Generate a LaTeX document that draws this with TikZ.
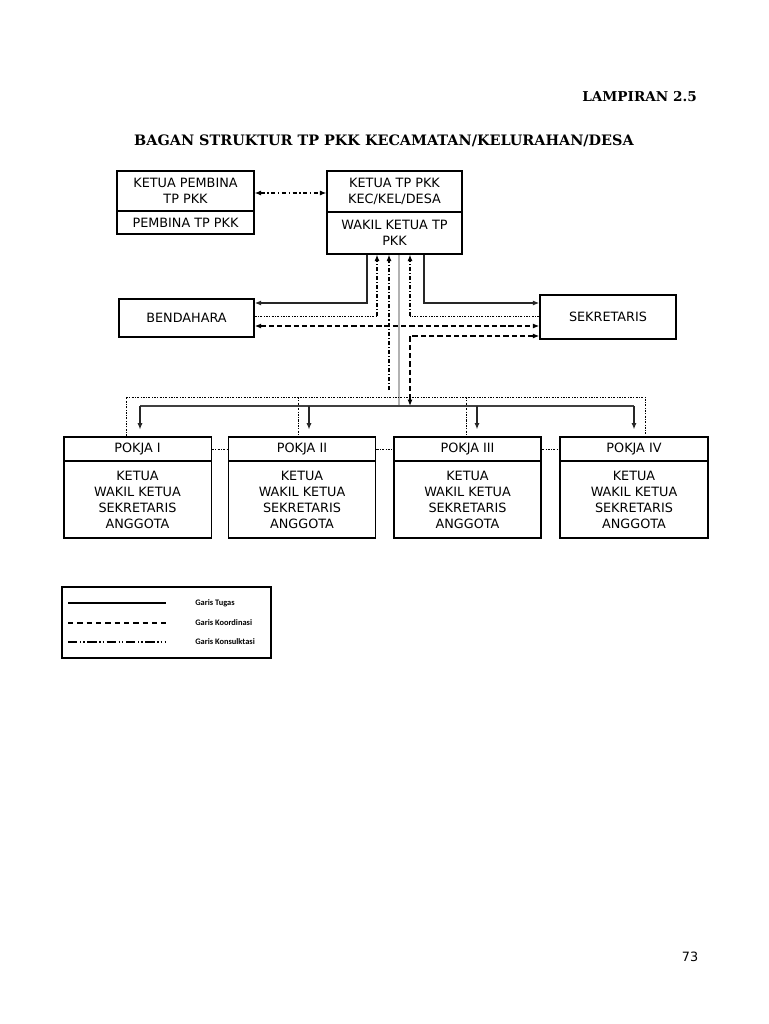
\documentclass[tikz,border=0pt]{standalone}
\usepackage{fontspec}
\setmainfont{DejaVu Sans}
\newfontfamily\titlefont{DejaVu Serif}
\newfontfamily\legfont{Carlito}
\usetikzlibrary{arrows.meta,calc}
\tikzset{
  box/.style={draw, line width=1.1pt, inner sep=0pt, align=center, font=\fontsize{9.6pt}{12pt}\selectfont},
  solidln/.style={line width=1pt, black!85},
  dashln/.style={line width=1pt, dash pattern=on 4pt off 2.2pt},
  ddot/.style={line width=0.8pt, dash pattern=on 3pt off 1.5pt on 0.8pt off 1.5pt},
  fdot/.style={line width=0.6pt, dash pattern=on 1.6pt off 1pt on 0.6pt off 1pt},
  konsul/.style={line width=0.8pt, dash pattern=on 3pt off 2pt on 1pt off 2pt},
  tip/.style={-{Latex[length=4.8pt,width=3.8pt]}},
  tipboth/.style={{Latex[length=4.8pt,width=3.8pt]}-{Latex[length=4.8pt,width=3.8pt]}},
  ttl/.style={font=\titlefont\bfseries\fontsize{10.8pt}{12pt}\selectfont, inner sep=0pt},
  leg/.style={font=\legfont\bfseries\fontsize{6.3pt}{7pt}\selectfont, anchor=west, inner sep=0pt},
  topw/.style={minimum width=102.75pt},
  midw/.style={minimum width=101.25pt},
  pw/.style={minimum width=110.6pt},
  ph/.style={minimum height=18pt},
  bh/.style={minimum height=57.75pt}
}
\begin{document}
\begin{tikzpicture}[x=0.75pt,y=-0.75pt]
\fill[white] (0,0) rectangle (768,1024);
\useasboundingbox (0,0) rectangle (768,1024);

% titles
\node[ttl, anchor=east, font=\titlefont\bfseries\fontsize{10.2pt}{12pt}\selectfont] (lamp) at (697,97) {LAMPIRAN 2.5};
\node[ttl] (title) at (384,141) {BAGAN STRUKTUR TP PKK KECAMATAN/KELURAHAN/DESA};

% top boxes
\node[box, topw, minimum height=30pt] (kpem) at (185.5,191) {KETUA PEMBINA\\TP PKK};
\node[box, topw, minimum height=17.25pt] (pem) at (185.5,222.5) {PEMBINA TP PKK};
\node[box, midw, minimum height=30.75pt] (ktp) at (394.5,191.5) {KETUA TP PKK\\KEC/KEL/DESA};
\node[box, midw, minimum height=31.5pt] (wk) at (394.5,233) {WAKIL KETUA TP\\PKK};

\node[box, midw, minimum height=28.5pt] (bend) at (186.5,318) {BENDAHARA};
\node[box, minimum width=102pt, minimum height=33pt] (sek) at (608,317) {SEKRETARIS};

% pokja
\node[box, pw, ph] (p1) at (137.5,449) {POKJA I};
\node[box, pw, bh] (b1) at (137.5,499.5) {KETUA\\WAKIL KETUA\\SEKRETARIS\\ANGGOTA};
\node[box, pw, ph] (p2) at (302,449) {POKJA II};
\node[box, pw, bh] (b2) at (302,499.5) {KETUA\\WAKIL KETUA\\SEKRETARIS\\ANGGOTA};
\node[box, pw, ph, line width=1.3pt] (p3) at (467.5,449) {POKJA III};
\node[box, pw, bh, line width=1.3pt] (b3) at (467.5,499.5) {KETUA\\WAKIL KETUA\\SEKRETARIS\\ANGGOTA};
\node[box, pw, ph, line width=1.3pt] (p4) at (634,449) {POKJA IV};
\node[box, pw, bh, line width=1.3pt] (b4) at (634,499.5) {KETUA\\WAKIL KETUA\\SEKRETARIS\\ANGGOTA};

% helper coordinates
\coordinate (v1) at (367,0);
\coordinate (v2) at (377,0);
\coordinate (v3) at (389,0);
\coordinate (v4) at (399,0);
\coordinate (v5) at (410,0);
\coordinate (v6) at (424,0);
\coordinate (hk) at (0,193);
\coordinate (h302) at (0,303);
\coordinate (h316) at (0,316);
\coordinate (h326) at (0,326);
\coordinate (h336) at (0,336);
\coordinate (h390) at (0,390);
\coordinate (hdot) at (0,397);
\coordinate (hsol) at (0,406);
\coordinate (a1) at (140,0);
\coordinate (a2) at (309,0);
\coordinate (a3) at (477,0);
\coordinate (a4) at (634,0);
\coordinate (d1) at (126,0);
\coordinate (d2) at (298,0);
\coordinate (d3) at (466,0);
\coordinate (d4) at (645,0);

% consultation line
\draw[konsul, tipboth] (kpem.east |- hk) -- (ktp.west |- hk);

% lines from wakil
\draw[solidln, tip] (v1 |- wk.south) -- (v1 |- h302) -- (bend.east |- h302);
\draw[solidln, tip] (v6 |- wk.south) -- (v6 |- h302) -- (sek.west |- h302);
\draw[fdot] (bend.east |- h316) -- (v2 |- h316);
\draw[ddot, tip] (v2 |- h316) -- (v2 |- wk.south);
\draw[fdot] (sek.west |- h316) -- (v5 |- h316);
\draw[ddot, tip] (v5 |- h316) -- (v5 |- wk.south);
\draw[ddot, tip] (v3 |- h390) -- (v3 |- wk.south);
\draw[gray!60, line width=1pt] (v4 |- wk.south) -- (v4 |- hsol);
\draw[dashln, tipboth] (bend.east |- h326) -- (sek.west |- h326);
\draw[dashln, tipboth] (sek.west |- h336) -- (v5 |- h336) -- (v5 |- hsol);

% pokja distribution
\draw[fdot] (d1 |- p1.north) -- (d1 |- hdot) -- (d4 |- hdot) -- (d4 |- p4.north);
\draw[fdot] (d2 |- hdot) -- (d2 |- p2.north);
\draw[fdot] (d3 |- hdot) -- (d3 |- p3.north);
\draw[line width=0.9pt, black!75] (a1 |- hsol) -- (a4 |- hsol);
\draw[solidln, tip, shorten >=5pt] (a1 |- hsol) -- (a1 |- p1.north);
\draw[solidln, tip, shorten >=5pt] (a2 |- hsol) -- (a2 |- p2.north);
\draw[solidln, tip, shorten >=5pt] (a3 |- hsol) -- (a3 |- p3.north);
\draw[solidln, tip, shorten >=5pt] (a4 |- hsol) -- (a4 |- p4.north);
\draw[fdot] (p1.east) -- (p2.west);
\draw[fdot] (p2.east) -- (p3.west);
\draw[fdot] (p3.east) -- (p4.west);

% legend
\draw[line width=1pt] (62,587) rectangle (271,658);
\coordinate (l1a) at (68,603);
\coordinate (l1b) at (166,603);
\coordinate (l2a) at (68,623);
\coordinate (l2b) at (166,623);
\coordinate (l3a) at (68,642);
\coordinate (l3b) at (166,642);
\draw[line width=0.9pt] (l1a) -- (l1b);
\draw[line width=0.9pt, dash pattern=on 4pt off 3pt] (l2a) -- (l2b);
\draw[line width=0.9pt, dash pattern=on 7pt off 2pt on 1pt off 1.5pt on 1pt off 2pt] (l3a) -- (l3b);
\node[leg] (g1) at (195,603) {Garis Tugas};
\node[leg] (g2) at (195,623) {Garis Koordinasi};
\node[leg] (g3) at (195,642) {Garis Konsulktasi};

% page number
\node[font=\fontsize{9.6pt}{12pt}\selectfont, inner sep=0pt] (pg) at (690,957) {73};
\end{tikzpicture}
\end{document}
